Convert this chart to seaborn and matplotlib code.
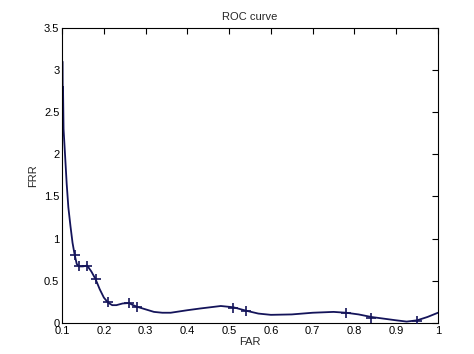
import numpy as np
import pandas as pd
import seaborn as sns
import matplotlib.pyplot as plt

# curve
curve_far = [0.1012, 0.1016, 0.1022, 0.1035, 0.107, 0.111, 0.115, 0.120, 0.125, 0.130, 0.135,
             0.140, 0.150, 0.160, 0.170, 0.180, 0.190, 0.200, 0.210, 0.220, 0.230,
             0.245, 0.260, 0.270, 0.280, 0.300, 0.320, 0.340, 0.360, 0.400, 0.430,
             0.480, 0.510, 0.540, 0.570, 0.600, 0.650, 0.700, 0.750, 0.780, 0.810,
             0.840, 0.870, 0.900, 0.925, 0.950, 0.975, 1.000]
curve_frr = [3.10, 2.55, 2.80, 2.30, 2.00, 1.65, 1.37, 1.15, 0.95, 0.81, 0.70,
             0.67, 0.67, 0.68, 0.61, 0.52, 0.40, 0.30, 0.24, 0.21, 0.21,
             0.23, 0.235, 0.21, 0.19, 0.16, 0.13, 0.12, 0.12, 0.15, 0.17,
             0.20, 0.185, 0.145, 0.11, 0.095, 0.10, 0.12, 0.13, 0.12, 0.10,
             0.07, 0.05, 0.03, 0.015, 0.03, 0.07, 0.12]

# '+' markers
marker_far = [0.13, 0.14, 0.16, 0.18, 0.21, 0.26, 0.28, 0.51, 0.54, 0.78, 0.84, 0.95]
marker_frr = [0.81, 0.67, 0.68, 0.52, 0.25, 0.23, 0.19, 0.18, 0.14, 0.12, 0.06, 0.02]

x_ticks = [0.1, 0.2, 0.3, 0.4, 0.5, 0.6, 0.7, 0.8, 0.9, 1.0]
x_labels = ['0.1', '0.2', '0.3', '0.4', '0.5', '0.6', '0.7', '0.8', '0.9', '1']
y_ticks = [0, 0.5, 1, 1.5, 2, 2.5, 3, 3.5]
y_labels = ['0', '0.5', '1', '1.5', '2', '2.5', '3', '3.5']

curve = pd.DataFrame({'FAR': curve_far, 'FRR': curve_frr})
marks = pd.DataFrame({'FAR': marker_far, 'FRR': marker_frr})

sns.set_style('white')
plt.rcParams['font.family'] = ['Liberation Sans', 'DejaVu Sans']
plt.rcParams['font.size'] = 7.5

color = '#14145a'

fig = plt.figure(figsize=(4.74, 3.54), dpi=100)
ax = fig.add_axes([0.131, 0.088, 0.793, 0.833])

sns.lineplot(data=curve, x='FAR', y='FRR', sort=False, estimator=None,
             color=color, linewidth=1.3, ax=ax)
sns.scatterplot(data=marks, x='FAR', y='FRR', marker='+', s=60,
                color=color, linewidth=1.2, ax=ax, zorder=3)

ax.set_xlim(0.1, 1)
ax.set_ylim(0, 3.5)
ax.set_xticks(x_ticks)
ax.set_xticklabels(x_labels)
ax.set_yticks(y_ticks)
ax.set_yticklabels(y_labels)
ax.tick_params(direction='in', length=4, width=0.8, top=True, right=True,
               labelsize=8, pad=2, colors='black')
for sp in ax.spines.values():
    sp.set_color('black')
    sp.set_linewidth(0.8)

ax.set_xlabel('FAR', fontsize=8, labelpad=1)
ax.set_ylabel('FRR', fontsize=8, labelpad=4)
ax.set_title('ROC curve', fontsize=8, pad=6)

fig.savefig('out.png', dpi=100)
